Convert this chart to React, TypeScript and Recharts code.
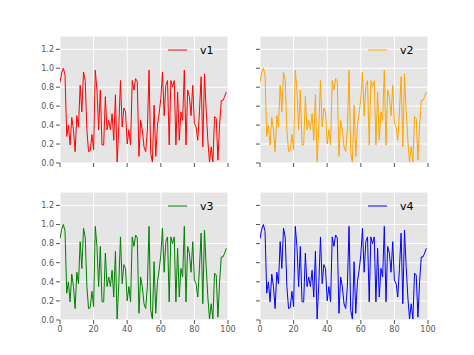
import { CartesianGrid, Legend, Line, LineChart, XAxis, YAxis } from "recharts";

// One random-looking series, drawn in four panels with different colours
const VALUES = [
  0.85, 0.95, 1.0, 0.93, 0.28, 0.4, 0.19, 0.48, 0.35, 0.12,
  0.5, 0.38, 0.82, 0.54, 0.96, 0.87, 0.35, 0.12, 0.13, 0.3,
  0.14, 0.98, 0.77, 0.35, 0.77, 0.19, 0.19, 0.7, 0.35, 0.45,
  0.35, 0.52, 0.24, 0.72, 0.01, 0.38, 0.87, 0.38, 0.58, 0.54,
  0.2, 0.35, 0.19, 0.87, 0.77, 0.89, 0.86, 0.07, 0.45, 0.35,
  0.17, 0.12, 0.35, 0.98, 0.1, 0.01, 0.61, 0.07, 0.4, 0.52,
  0.68, 0.96, 0.5, 0.82, 0.87, 0.19, 0.87, 0.8, 0.87, 0.19,
  0.75, 0.24, 0.54, 0.45, 0.98, 0.19, 0.77, 0.7, 0.5, 0.82,
  0.42, 0.38, 0.24, 0.54, 0.91, 0.17, 0.94, 0.56, 0.24, 0.01,
  0.17, 0.01, 0.49, 0.47, 0.03, 0.4, 0.66, 0.66, 0.7, 0.75,
];

const SERIES_NAMES = ["v1", "v2", "v3", "v4"];
const SERIES_COLORS = ["#ff0000", "#ffa500", "#008000", "#0000ff"];
const X_TICKS = [0, 20, 40, 60, 80, 100];
const Y_TICKS = [0, 0.2, 0.4, 0.6, 0.8, 1.0, 1.2];

const W = 474;
const H = 355;
const Y_W = 30;
const X_H = 20;
const TICK = "#555555";
const FONT = "DejaVu Sans, sans-serif";

const data = VALUES.map((v, i) => ({ x: i, v }));

// panel boxes in page pixels
const PANELS = [
  { left: 60, top: 36, w: 168, h: 127, xLabels: false, yLabels: true },
  { left: 260, top: 36, w: 168, h: 127, xLabels: false, yLabels: false },
  { left: 60, top: 192, w: 168, h: 128, xLabels: true, yLabels: true },
  { left: 260, top: 192, w: 168, h: 128, xLabels: true, yLabels: false },
];

function Panel({ idx }: { idx: number }) {
  const p = PANELS[idx];
  const name = SERIES_NAMES[idx];
  const color = SERIES_COLORS[idx];
  const margin = {
    top: p.top,
    left: p.left - Y_W,
    right: W - p.left - p.w,
    bottom: H - p.top - p.h - X_H,
  };
  return (
    <div style={{ position: "absolute", left: 0, top: 0 }}>
      <LineChart width={W} height={H} data={data} margin={margin}>
        <CartesianGrid fill="#e5e5e5" fillOpacity={1} stroke="#ffffff" strokeWidth={1} />
        <XAxis
          type="number"
          dataKey="x"
          domain={[0, 100]}
          ticks={X_TICKS}
          allowDataOverflow
          height={X_H}
          axisLine={false}
          tickSize={4}
          tickLine={{ stroke: TICK }}
          tick={{ fill: TICK, fontSize: 8, fontFamily: FONT }}
          tickFormatter={(v) => (p.xLabels ? String(v) : "")}
        />
        <YAxis
          type="number"
          domain={[0, 1.34]}
          ticks={Y_TICKS}
          allowDataOverflow
          width={Y_W}
          axisLine={false}
          tickSize={4}
          tickLine={{ stroke: TICK }}
          tick={{ fill: TICK, fontSize: 8, fontFamily: FONT }}
          tickFormatter={(v) => (p.yLabels ? Number(v).toFixed(1) : "")}
        />
        {/* middle/center so the legend does not shrink the plot area */}
        <Legend
          layout="horizontal"
          verticalAlign="middle"
          align="center"
          wrapperStyle={{ position: "absolute", left: p.left + 108, top: p.top + 6, width: 60 }}
          content={() => (
            <div style={{ display: "flex", alignItems: "center", fontFamily: FONT, fontSize: 11 }}>
              <svg width={20} height={16}>
                <line x1={0} y1={8} x2={19} y2={8} stroke={color} strokeWidth={1} />
              </svg>
              <span style={{ marginLeft: 12, color: "#000" }}>{name}</span>
            </div>
          )}
        />
        <Line
          type="linear"
          dataKey="v"
          name={name}
          stroke={color}
          strokeWidth={1}
          dot={false}
          isAnimationActive={false}
        />
      </LineChart>
    </div>
  );
}

export default function App() {
  return (
    <div style={{ position: "absolute", left: 0, top: 0, width: W, height: H, background: "#fff" }}>
      {PANELS.map((_, i) => (
        <Panel key={i} idx={i} />
      ))}
    </div>
  );
}
